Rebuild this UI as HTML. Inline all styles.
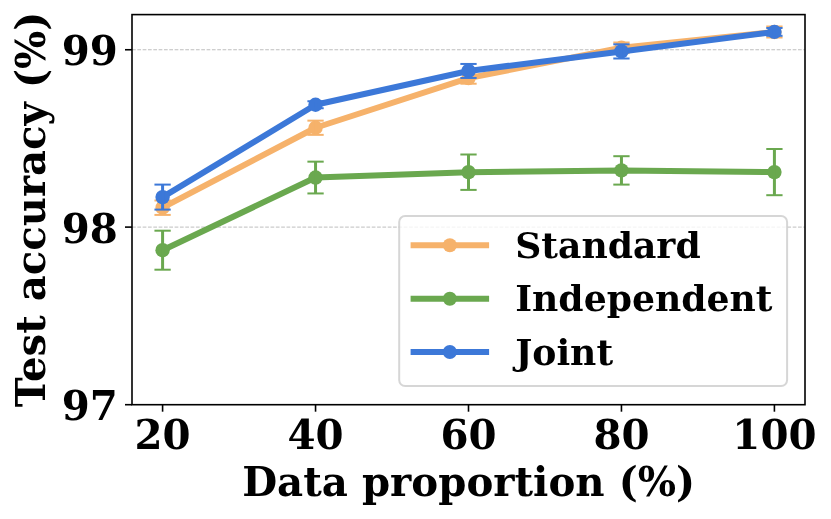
<!DOCTYPE html>
<html lang="en"><head><meta charset="utf-8"><title>Test accuracy vs data proportion</title>
<style>html,body{margin:0;padding:0;background:#fff;}svg{display:block;}text{font-family:'DejaVu Serif','Liberation Serif',serif;font-weight:bold;fill:#000;}</style></head><body>
<svg width="831" height="519" viewBox="0 0 831 519">
<rect x="0" y="0" width="831" height="519" fill="#fff"/>
<line x1="132.00" x2="805.00" y1="227.10" y2="227.10" stroke="#bebebe" stroke-width="1" stroke-dasharray="3.72 1.608"/>
<line x1="132.00" x2="805.00" y1="49.75" y2="49.75" stroke="#bebebe" stroke-width="1" stroke-dasharray="3.72 1.608"/>
<g stroke="#F6B26B" fill="#F6B26B">
<path d="M162.59 207.70 L315.55 127.75 L468.50 78.10 L621.45 47.80 L774.41 32.00" fill="none" stroke-width="6.0" stroke-linejoin="round" stroke-linecap="butt"/>
<circle cx="162.59" cy="207.70" r="7.2" stroke="none"/>
<line x1="162.59" x2="162.59" y1="200.50" y2="214.90" stroke-width="3.0"/>
<line x1="154.44" x2="170.74" y1="200.50" y2="200.50" stroke-width="2.0"/>
<line x1="154.44" x2="170.74" y1="214.90" y2="214.90" stroke-width="2.0"/>
<circle cx="315.55" cy="127.75" r="7.2" stroke="none"/>
<line x1="315.55" x2="315.55" y1="120.65" y2="134.85" stroke-width="3.0"/>
<line x1="307.40" x2="323.70" y1="120.65" y2="120.65" stroke-width="2.0"/>
<line x1="307.40" x2="323.70" y1="134.85" y2="134.85" stroke-width="2.0"/>
<circle cx="468.50" cy="78.10" r="7.2" stroke="none"/>
<line x1="468.50" x2="468.50" y1="72.50" y2="83.70" stroke-width="3.0"/>
<line x1="460.35" x2="476.65" y1="72.50" y2="72.50" stroke-width="2.0"/>
<line x1="460.35" x2="476.65" y1="83.70" y2="83.70" stroke-width="2.0"/>
<circle cx="621.45" cy="47.80" r="7.2" stroke="none"/>
<line x1="621.45" x2="621.45" y1="42.50" y2="53.10" stroke-width="3.0"/>
<line x1="613.30" x2="629.60" y1="42.50" y2="42.50" stroke-width="2.0"/>
<line x1="613.30" x2="629.60" y1="53.10" y2="53.10" stroke-width="2.0"/>
<circle cx="774.41" cy="32.00" r="7.2" stroke="none"/>
<line x1="774.41" x2="774.41" y1="26.50" y2="37.50" stroke-width="3.0"/>
<line x1="766.26" x2="782.56" y1="26.50" y2="26.50" stroke-width="2.0"/>
<line x1="766.26" x2="782.56" y1="37.50" y2="37.50" stroke-width="2.0"/>
</g>
<g stroke="#6AA84F" fill="#6AA84F">
<path d="M162.59 250.20 L315.55 177.55 L468.50 172.20 L621.45 170.40 L774.41 172.10" fill="none" stroke-width="6.0" stroke-linejoin="round" stroke-linecap="butt"/>
<circle cx="162.59" cy="250.20" r="7.2" stroke="none"/>
<line x1="162.59" x2="162.59" y1="230.70" y2="269.70" stroke-width="3.0"/>
<line x1="154.44" x2="170.74" y1="230.70" y2="230.70" stroke-width="2.0"/>
<line x1="154.44" x2="170.74" y1="269.70" y2="269.70" stroke-width="2.0"/>
<circle cx="315.55" cy="177.55" r="7.2" stroke="none"/>
<line x1="315.55" x2="315.55" y1="161.65" y2="193.45" stroke-width="3.0"/>
<line x1="307.40" x2="323.70" y1="161.65" y2="161.65" stroke-width="2.0"/>
<line x1="307.40" x2="323.70" y1="193.45" y2="193.45" stroke-width="2.0"/>
<circle cx="468.50" cy="172.20" r="7.2" stroke="none"/>
<line x1="468.50" x2="468.50" y1="154.50" y2="189.90" stroke-width="3.0"/>
<line x1="460.35" x2="476.65" y1="154.50" y2="154.50" stroke-width="2.0"/>
<line x1="460.35" x2="476.65" y1="189.90" y2="189.90" stroke-width="2.0"/>
<circle cx="621.45" cy="170.40" r="7.2" stroke="none"/>
<line x1="621.45" x2="621.45" y1="156.20" y2="184.60" stroke-width="3.0"/>
<line x1="613.30" x2="629.60" y1="156.20" y2="156.20" stroke-width="2.0"/>
<line x1="613.30" x2="629.60" y1="184.60" y2="184.60" stroke-width="2.0"/>
<circle cx="774.41" cy="172.10" r="7.2" stroke="none"/>
<line x1="774.41" x2="774.41" y1="149.00" y2="195.20" stroke-width="3.0"/>
<line x1="766.26" x2="782.56" y1="149.00" y2="149.00" stroke-width="2.0"/>
<line x1="766.26" x2="782.56" y1="195.20" y2="195.20" stroke-width="2.0"/>
</g>
<g stroke="#3C78D8" fill="#3C78D8">
<path d="M162.59 197.10 L315.55 104.75 L468.50 70.95 L621.45 51.40 L774.41 31.90" fill="none" stroke-width="6.0" stroke-linejoin="round" stroke-linecap="butt"/>
<circle cx="162.59" cy="197.10" r="7.2" stroke="none"/>
<line x1="162.59" x2="162.59" y1="184.60" y2="209.60" stroke-width="3.0"/>
<line x1="154.44" x2="170.74" y1="184.60" y2="184.60" stroke-width="2.0"/>
<line x1="154.44" x2="170.74" y1="209.60" y2="209.60" stroke-width="2.0"/>
<circle cx="315.55" cy="104.75" r="7.2" stroke="none"/>
<line x1="315.55" x2="315.55" y1="101.25" y2="108.25" stroke-width="3.0"/>
<line x1="307.40" x2="323.70" y1="101.25" y2="101.25" stroke-width="2.0"/>
<line x1="307.40" x2="323.70" y1="108.25" y2="108.25" stroke-width="2.0"/>
<circle cx="468.50" cy="70.95" r="7.2" stroke="none"/>
<line x1="468.50" x2="468.50" y1="63.95" y2="77.95" stroke-width="3.0"/>
<line x1="460.35" x2="476.65" y1="63.95" y2="63.95" stroke-width="2.0"/>
<line x1="460.35" x2="476.65" y1="77.95" y2="77.95" stroke-width="2.0"/>
<circle cx="621.45" cy="51.40" r="7.2" stroke="none"/>
<line x1="621.45" x2="621.45" y1="44.30" y2="58.50" stroke-width="3.0"/>
<line x1="613.30" x2="629.60" y1="44.30" y2="44.30" stroke-width="2.0"/>
<line x1="613.30" x2="629.60" y1="58.50" y2="58.50" stroke-width="2.0"/>
<circle cx="774.41" cy="31.90" r="7.2" stroke="none"/>
<line x1="774.41" x2="774.41" y1="28.00" y2="35.80" stroke-width="3.0"/>
<line x1="766.26" x2="782.56" y1="28.00" y2="28.00" stroke-width="2.0"/>
<line x1="766.26" x2="782.56" y1="35.80" y2="35.80" stroke-width="2.0"/>
</g>
<rect x="132.00" y="14.60" width="673.00" height="390.10" fill="none" stroke="#000" stroke-width="1.6"/>
<line x1="162.59" x2="162.59" y1="404.70" y2="411.70" stroke="#000" stroke-width="1.6"/>
<text x="162.59" y="449.3" font-size="40.3" text-anchor="middle">20</text>
<line x1="315.55" x2="315.55" y1="404.70" y2="411.70" stroke="#000" stroke-width="1.6"/>
<text x="315.55" y="449.3" font-size="40.3" text-anchor="middle">40</text>
<line x1="468.50" x2="468.50" y1="404.70" y2="411.70" stroke="#000" stroke-width="1.6"/>
<text x="468.50" y="449.3" font-size="40.3" text-anchor="middle">60</text>
<line x1="621.45" x2="621.45" y1="404.70" y2="411.70" stroke="#000" stroke-width="1.6"/>
<text x="621.45" y="449.3" font-size="40.3" text-anchor="middle">80</text>
<line x1="774.41" x2="774.41" y1="404.70" y2="411.70" stroke="#000" stroke-width="1.6"/>
<text x="774.41" y="449.3" font-size="40.3" text-anchor="middle">100</text>
<line x1="125.00" x2="132.00" y1="404.70" y2="404.70" stroke="#000" stroke-width="1.6"/>
<text x="117.8" y="420.10" font-size="40.3" text-anchor="end">97</text>
<line x1="125.00" x2="132.00" y1="227.10" y2="227.10" stroke="#000" stroke-width="1.6"/>
<text x="117.8" y="242.50" font-size="40.3" text-anchor="end">98</text>
<line x1="125.00" x2="132.00" y1="49.75" y2="49.75" stroke="#000" stroke-width="1.6"/>
<text x="117.8" y="65.15" font-size="40.3" text-anchor="end">99</text>
<text x="468.6" y="496" font-size="40.3" text-anchor="middle">Data proportion (%)</text>
<text transform="translate(44.5 209.6) rotate(-90)" font-size="40.2" text-anchor="middle">Test accuracy (%)</text>
<rect x="399.2" y="216.0" width="387.9" height="170.1" rx="6" ry="6" fill="#fff" fill-opacity="0.8" stroke="#cccccc" stroke-opacity="0.8" stroke-width="2"/>
<line x1="410.6" x2="489.1" y1="245.3" y2="245.3" stroke="#F6B26B" stroke-width="6"/>
<circle cx="449.85" cy="245.3" r="7.0" fill="#F6B26B"/>
<text x="515.2" y="257.9" font-size="36.15">Standard</text>
<line x1="410.6" x2="489.1" y1="298.7" y2="298.7" stroke="#6AA84F" stroke-width="6"/>
<circle cx="449.85" cy="298.7" r="7.0" fill="#6AA84F"/>
<text x="515.2" y="311.3" font-size="36.15">Independent</text>
<line x1="410.6" x2="489.1" y1="352.0" y2="352.0" stroke="#3C78D8" stroke-width="6"/>
<circle cx="449.85" cy="352.0" r="7.0" fill="#3C78D8"/>
<text x="515.2" y="364.6" font-size="36.15">Joint</text>
</svg></body></html>
